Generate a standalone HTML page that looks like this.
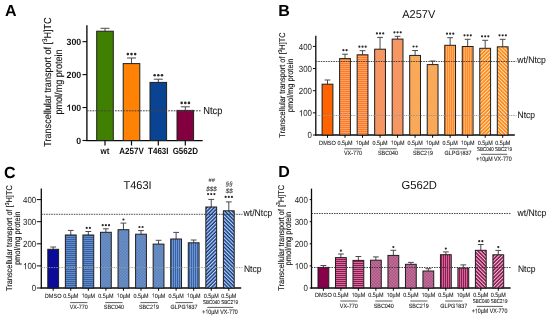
<!DOCTYPE html><html><head><meta charset="utf-8"><style>html,body{margin:0;padding:0;background:#fff;}svg{display:block;will-change:transform;text-rendering:geometricPrecision;}</style></head><body>
<svg width="550" height="318" viewBox="0 0 550 318" font-family='"Liberation Sans", sans-serif'>
<rect width="550" height="318" fill="#fff"/>
<defs>
<pattern id="bH" patternUnits="userSpaceOnUse" width="4" height="2"><rect width="4" height="2" fill="#ff7a28"/><rect y="0" width="4" height="0.8" fill="#ffac74"/></pattern>
<pattern id="bX" patternUnits="userSpaceOnUse" width="1.5" height="1.5"><rect width="1.5" height="1.5" fill="#f38a4e"/><rect width="0.75" height="0.75" fill="#f9a377"/><rect x="0.75" y="0.75" width="0.75" height="0.75" fill="#f9a377"/></pattern>
<pattern id="bX2" patternUnits="userSpaceOnUse" width="1.5" height="1.5"><rect width="1.5" height="1.5" fill="#f89e45"/><rect width="0.75" height="0.75" fill="#fbb46c"/><rect x="0.75" y="0.75" width="0.75" height="0.75" fill="#fbb46c"/></pattern>
<pattern id="bV" patternUnits="userSpaceOnUse" width="2" height="4"><rect width="2" height="4" fill="#ff8a2a"/><rect x="0" width="0.8" height="4" fill="#ffb772"/></pattern>
<pattern id="bD1" patternUnits="userSpaceOnUse" width="2.6" height="2.6" patternTransform="rotate(45)"><rect width="2.6" height="2.6" fill="#ff7f00"/><rect x="0" width="1.1" height="2.6" fill="#ffe2c2"/></pattern>
<pattern id="bD2" patternUnits="userSpaceOnUse" width="2.6" height="2.6" patternTransform="rotate(-45)"><rect width="2.6" height="2.6" fill="#ff7f00"/><rect x="0" width="1.1" height="2.6" fill="#ffe2c2"/></pattern>
<pattern id="cH" patternUnits="userSpaceOnUse" width="4" height="2"><rect width="4" height="2" fill="#3462a8"/><rect y="0" width="4" height="0.8" fill="#7395cb"/></pattern>
<pattern id="cX" patternUnits="userSpaceOnUse" width="1.5" height="1.5"><rect width="1.5" height="1.5" fill="#4c76b5"/><rect width="0.75" height="0.75" fill="#7d9ccd"/><rect x="0.75" y="0.75" width="0.75" height="0.75" fill="#7d9ccd"/></pattern>
<pattern id="cX2" patternUnits="userSpaceOnUse" width="1.5" height="1.5"><rect width="1.5" height="1.5" fill="#4c76b5"/><rect width="0.75" height="0.75" fill="#7d9ccd"/><rect x="0.75" y="0.75" width="0.75" height="0.75" fill="#7d9ccd"/></pattern>
<pattern id="cV" patternUnits="userSpaceOnUse" width="2" height="4"><rect width="2" height="4" fill="#3563ab"/><rect x="0" width="0.8" height="4" fill="#7fa0d3"/></pattern>
<pattern id="cD1" patternUnits="userSpaceOnUse" width="2.6" height="2.6" patternTransform="rotate(45)"><rect width="2.6" height="2.6" fill="#0a3786"/><rect x="0" width="1.2" height="2.6" fill="#c4d6f0"/></pattern>
<pattern id="cD2" patternUnits="userSpaceOnUse" width="2.6" height="2.6" patternTransform="rotate(-45)"><rect width="2.6" height="2.6" fill="#0a3786"/><rect x="0" width="1.2" height="2.6" fill="#c4d6f0"/></pattern>
<pattern id="dH" patternUnits="userSpaceOnUse" width="4" height="2"><rect width="4" height="2" fill="#9c1452"/><rect y="0" width="4" height="0.8" fill="#d28aae"/></pattern>
<pattern id="dX" patternUnits="userSpaceOnUse" width="1.5" height="1.5"><rect width="1.5" height="1.5" fill="#a43d74"/><rect width="0.75" height="0.75" fill="#c987aa"/><rect x="0.75" y="0.75" width="0.75" height="0.75" fill="#c987aa"/></pattern>
<pattern id="dX2" patternUnits="userSpaceOnUse" width="1.5" height="1.5"><rect width="1.5" height="1.5" fill="#a43d74"/><rect width="0.75" height="0.75" fill="#c987aa"/><rect x="0.75" y="0.75" width="0.75" height="0.75" fill="#c987aa"/></pattern>
<pattern id="dV" patternUnits="userSpaceOnUse" width="2" height="4"><rect width="2" height="4" fill="#9c1654"/><rect x="0" width="0.8" height="4" fill="#d083aa"/></pattern>
<pattern id="dD1" patternUnits="userSpaceOnUse" width="2.6" height="2.6" patternTransform="rotate(-45)"><rect width="2.6" height="2.6" fill="#8a0a48"/><rect x="0" width="1.1" height="2.6" fill="#f0c8da"/></pattern>
<pattern id="dD2" patternUnits="userSpaceOnUse" width="2.6" height="2.6" patternTransform="rotate(45)"><rect width="2.6" height="2.6" fill="#8a0a48"/><rect x="0" width="1.1" height="2.6" fill="#f0c8da"/></pattern>
</defs>
<text x="4.9" y="16.1" font-size="16" font-weight="bold" text-anchor="start" fill="#000" >A</text>
<text transform="translate(51.2,82) rotate(-90) scale(1,1.12)" x="0" y="0" font-size="9.06" text-anchor="middle" fill="#111" stroke="#111" stroke-width="0.1">Transcellular transport of [<tspan font-size="6.16" dy="-3.81">3</tspan><tspan dy="3.81">H]TC</tspan></text>
<text transform="translate(61.7,82) rotate(-90) scale(1,1.12)" x="0" y="0" font-size="9.1" text-anchor="middle" fill="#111" stroke="#111" stroke-width="0.1">pmol/mg protein</text>
<line x1="86.9" y1="25.3" x2="86.9" y2="141.1" stroke="#0a0a0a" stroke-width="1.35"/>
<line x1="86.3" y1="140.7" x2="202.7" y2="140.7" stroke="#0a0a0a" stroke-width="1.3"/>
<line x1="82.5" y1="140.5" x2="86.9" y2="140.5" stroke="#0a0a0a" stroke-width="1.1"/>
<text transform="translate(81.2,143.7) scale(1.0,1.04)" x="0" y="0" font-size="8.8" font-weight="bold" text-anchor="end" fill="#111" >0</text>
<line x1="82.5" y1="107.55" x2="86.9" y2="107.55" stroke="#0a0a0a" stroke-width="1.1"/>
<text transform="translate(81.2,110.75) scale(1.0,1.04)" x="0" y="0" font-size="8.8" font-weight="bold" text-anchor="end" fill="#111" >00</text>
<path transform="translate(66.52,110.75) scale(0.00430,-0.00447)" d="M816 0L597 0L597 1055C477 942 336 862 175 811L175 1063C260 1091 352 1144 452 1222C551 1299 619 1360 656 1409L816 1409Z" fill="#111"/>
<line x1="82.5" y1="74.6" x2="86.9" y2="74.6" stroke="#0a0a0a" stroke-width="1.1"/>
<text transform="translate(81.2,77.8) scale(1.0,1.04)" x="0" y="0" font-size="8.8" font-weight="bold" text-anchor="end" fill="#111" >200</text>
<line x1="82.5" y1="41.65" x2="86.9" y2="41.65" stroke="#0a0a0a" stroke-width="1.1"/>
<text transform="translate(81.2,44.85) scale(1.0,1.04)" x="0" y="0" font-size="8.8" font-weight="bold" text-anchor="end" fill="#111" >300</text>
<line x1="105" y1="28.3" x2="105" y2="31.2" stroke="#4a4a4a" stroke-width="1"/>
<line x1="100.5" y1="28.3" x2="109.5" y2="28.3" stroke="#4a4a4a" stroke-width="1"/>
<rect x="96.7" y="31.2" width="16.6" height="109.3" fill="#408000" stroke="#1e1e1e" stroke-width="1"/>
<line x1="105" y1="140.5" x2="105" y2="145.5" stroke="#0a0a0a" stroke-width="1.2"/>
<text transform="translate(105,153.8) scale(1.0,1.12)" x="0" y="0" font-size="8" font-weight="bold" text-anchor="middle" fill="#111" >wt</text>
<line x1="131.5" y1="58" x2="131.5" y2="63.6" stroke="#4a4a4a" stroke-width="1"/>
<line x1="127" y1="58" x2="136" y2="58" stroke="#4a4a4a" stroke-width="1"/>
<rect x="123.2" y="63.6" width="16.6" height="76.9" fill="#ff8205" stroke="#1e1e1e" stroke-width="1"/>
<circle cx="127.85" cy="54.1" r="1.3" fill="#2a2a2a"/>
<circle cx="131.5" cy="54.1" r="1.3" fill="#2a2a2a"/>
<circle cx="135.15" cy="54.1" r="1.3" fill="#2a2a2a"/>
<line x1="131.5" y1="140.5" x2="131.5" y2="145.5" stroke="#0a0a0a" stroke-width="1.2"/>
<text transform="translate(131.5,153.8) scale(1.0,1.12)" x="0" y="0" font-size="8" font-weight="bold" text-anchor="middle" fill="#111" >A257V</text>
<line x1="158.3" y1="79.2" x2="158.3" y2="82.4" stroke="#4a4a4a" stroke-width="1"/>
<line x1="153.8" y1="79.2" x2="162.8" y2="79.2" stroke="#4a4a4a" stroke-width="1"/>
<rect x="150" y="82.4" width="16.6" height="58.1" fill="#0a4391" stroke="#1e1e1e" stroke-width="1"/>
<circle cx="154.65" cy="75.3" r="1.3" fill="#2a2a2a"/>
<circle cx="158.3" cy="75.3" r="1.3" fill="#2a2a2a"/>
<circle cx="161.95" cy="75.3" r="1.3" fill="#2a2a2a"/>
<line x1="158.3" y1="140.5" x2="158.3" y2="145.5" stroke="#0a0a0a" stroke-width="1.2"/>
<text transform="translate(158.3,153.8) scale(1.0,1.12)" x="0" y="0" font-size="8" font-weight="bold" text-anchor="middle" fill="#111" >T463I</text>
<line x1="185.3" y1="106.8" x2="185.3" y2="110.4" stroke="#4a4a4a" stroke-width="1"/>
<line x1="180.8" y1="106.8" x2="189.8" y2="106.8" stroke="#4a4a4a" stroke-width="1"/>
<rect x="177" y="110.4" width="16.6" height="30.1" fill="#82003f" stroke="#1e1e1e" stroke-width="1"/>
<circle cx="181.65" cy="102.9" r="1.3" fill="#2a2a2a"/>
<circle cx="185.3" cy="102.9" r="1.3" fill="#2a2a2a"/>
<circle cx="188.95" cy="102.9" r="1.3" fill="#2a2a2a"/>
<line x1="185.3" y1="140.5" x2="185.3" y2="145.5" stroke="#0a0a0a" stroke-width="1.2"/>
<text transform="translate(185.3,153.8) scale(1.0,1.12)" x="0" y="0" font-size="8" font-weight="bold" text-anchor="middle" fill="#111" >G562D</text>
<line x1="86.9" y1="110.8" x2="200.6" y2="110.8" stroke="#444" stroke-width="1" stroke-dasharray="1.8,1.0"/>
<text transform="translate(203.3,113.6) scale(1.0,1.1)" x="0" y="0" font-size="9.3" font-weight="normal" text-anchor="start" fill="#111" stroke="#222" stroke-width="0.08">Ntcp</text>
<text x="278.3" y="16" font-size="16" font-weight="bold" text-anchor="start" fill="#000" >B</text>
<text transform="translate(418.8,18.4) scale(1.0,1.04)" x="0" y="0" font-size="11" font-weight="normal" text-anchor="middle" fill="#111" >A257V</text>
<text transform="translate(285.2,85.05) rotate(-90) scale(1,1.12)" x="0" y="0" font-size="7.37" text-anchor="middle" fill="#111" stroke="#111" stroke-width="0.1">Transcellular transport of [<tspan font-size="5.01" dy="-3.10">3</tspan><tspan dy="3.10">H]TC</tspan></text>
<text transform="translate(293,85.45) rotate(-90) scale(1,1.12)" x="0" y="0" font-size="7.49" text-anchor="middle" fill="#111" stroke="#111" stroke-width="0.1">pmol/mg protein</text>
<line x1="315.8" y1="35.7" x2="315.8" y2="135.6" stroke="#0a0a0a" stroke-width="1.3"/>
<line x1="315.2" y1="135" x2="514.8" y2="135" stroke="#0a0a0a" stroke-width="1.3"/>
<line x1="312.9" y1="135" x2="315.8" y2="135" stroke="#0a0a0a" stroke-width="1"/>
<text transform="translate(312,138.3) scale(1.0,1.12)" x="0" y="0" font-size="7.9" font-weight="normal" text-anchor="end" fill="#1a1a1a" >0</text>
<line x1="312.9" y1="112.85" x2="315.8" y2="112.85" stroke="#0a0a0a" stroke-width="1"/>
<text transform="translate(312,116.15) scale(1.0,1.12)" x="0" y="0" font-size="7.9" font-weight="normal" text-anchor="end" fill="#1a1a1a" >00</text>
<path transform="translate(298.82,116.15) scale(0.00386,-0.00432)" d="M583 0L583 1147C540 1106 483 1064 413 1023C343 982 280 951 224 930L224 1104C325 1151 413 1209 488 1276C563 1343 616 1376 647 1409L763 1409L763 0Z" fill="#1a1a1a"/>
<line x1="312.9" y1="90.7" x2="315.8" y2="90.7" stroke="#0a0a0a" stroke-width="1"/>
<text transform="translate(312,94) scale(1.0,1.12)" x="0" y="0" font-size="7.9" font-weight="normal" text-anchor="end" fill="#1a1a1a" >200</text>
<line x1="312.9" y1="68.55" x2="315.8" y2="68.55" stroke="#0a0a0a" stroke-width="1"/>
<text transform="translate(312,71.85) scale(1.0,1.12)" x="0" y="0" font-size="7.9" font-weight="normal" text-anchor="end" fill="#1a1a1a" >300</text>
<line x1="312.9" y1="46.4" x2="315.8" y2="46.4" stroke="#0a0a0a" stroke-width="1"/>
<text transform="translate(312,49.7) scale(1.0,1.12)" x="0" y="0" font-size="7.9" font-weight="normal" text-anchor="end" fill="#1a1a1a" >400</text>
<line x1="327.5" y1="80" x2="327.5" y2="84.2" stroke="#4a4a4a" stroke-width="1"/>
<line x1="324.6" y1="80" x2="330.4" y2="80" stroke="#4a4a4a" stroke-width="1"/>
<rect x="322.1" y="84.2" width="10.8" height="50.8" fill="#ff6300" stroke="#1e1e1e" stroke-width="1"/>
<line x1="327.5" y1="135" x2="327.5" y2="137.8" stroke="#0a0a0a" stroke-width="1"/>
<line x1="345.02" y1="54.2" x2="345.02" y2="58.6" stroke="#4a4a4a" stroke-width="1"/>
<line x1="342.12" y1="54.2" x2="347.92" y2="54.2" stroke="#4a4a4a" stroke-width="1"/>
<rect x="339.62" y="58.6" width="10.8" height="76.4" fill="url(#bH)" stroke="#1e1e1e" stroke-width="1"/>
<circle cx="343.44" cy="50.2" r="1.1" fill="#2a2a2a"/>
<circle cx="346.59" cy="50.2" r="1.1" fill="#2a2a2a"/>
<line x1="345.02" y1="135" x2="345.02" y2="137.8" stroke="#0a0a0a" stroke-width="1"/>
<line x1="362.54" y1="50.7" x2="362.54" y2="54.8" stroke="#4a4a4a" stroke-width="1"/>
<line x1="359.64" y1="50.7" x2="365.44" y2="50.7" stroke="#4a4a4a" stroke-width="1"/>
<rect x="357.14" y="54.8" width="10.8" height="80.2" fill="url(#bH)" stroke="#1e1e1e" stroke-width="1"/>
<circle cx="359.39" cy="46.7" r="1.1" fill="#2a2a2a"/>
<circle cx="362.54" cy="46.7" r="1.1" fill="#2a2a2a"/>
<circle cx="365.69" cy="46.7" r="1.1" fill="#2a2a2a"/>
<line x1="362.54" y1="135" x2="362.54" y2="137.8" stroke="#0a0a0a" stroke-width="1"/>
<line x1="380.06" y1="37.4" x2="380.06" y2="49.2" stroke="#4a4a4a" stroke-width="1"/>
<line x1="377.16" y1="37.4" x2="382.96" y2="37.4" stroke="#4a4a4a" stroke-width="1"/>
<rect x="374.66" y="49.2" width="10.8" height="85.8" fill="url(#bX)" stroke="#1e1e1e" stroke-width="1"/>
<circle cx="376.91" cy="33.4" r="1.1" fill="#2a2a2a"/>
<circle cx="380.06" cy="33.4" r="1.1" fill="#2a2a2a"/>
<circle cx="383.21" cy="33.4" r="1.1" fill="#2a2a2a"/>
<line x1="380.06" y1="135" x2="380.06" y2="137.8" stroke="#0a0a0a" stroke-width="1"/>
<line x1="397.58" y1="36.3" x2="397.58" y2="39.1" stroke="#4a4a4a" stroke-width="1"/>
<line x1="394.68" y1="36.3" x2="400.48" y2="36.3" stroke="#4a4a4a" stroke-width="1"/>
<rect x="392.18" y="39.1" width="10.8" height="95.9" fill="url(#bX)" stroke="#1e1e1e" stroke-width="1"/>
<circle cx="394.43" cy="32.3" r="1.1" fill="#2a2a2a"/>
<circle cx="397.58" cy="32.3" r="1.1" fill="#2a2a2a"/>
<circle cx="400.73" cy="32.3" r="1.1" fill="#2a2a2a"/>
<line x1="397.58" y1="135" x2="397.58" y2="137.8" stroke="#0a0a0a" stroke-width="1"/>
<line x1="415.1" y1="50.5" x2="415.1" y2="55.4" stroke="#4a4a4a" stroke-width="1"/>
<line x1="412.2" y1="50.5" x2="418" y2="50.5" stroke="#4a4a4a" stroke-width="1"/>
<rect x="409.7" y="55.4" width="10.8" height="79.6" fill="url(#bX2)" stroke="#1e1e1e" stroke-width="1"/>
<circle cx="413.53" cy="46.5" r="1.1" fill="#2a2a2a"/>
<circle cx="416.68" cy="46.5" r="1.1" fill="#2a2a2a"/>
<line x1="415.1" y1="135" x2="415.1" y2="137.8" stroke="#0a0a0a" stroke-width="1"/>
<line x1="432.62" y1="61" x2="432.62" y2="64.6" stroke="#4a4a4a" stroke-width="1"/>
<line x1="429.72" y1="61" x2="435.52" y2="61" stroke="#4a4a4a" stroke-width="1"/>
<rect x="427.22" y="64.6" width="10.8" height="70.4" fill="url(#bX2)" stroke="#1e1e1e" stroke-width="1"/>
<line x1="432.62" y1="135" x2="432.62" y2="137.8" stroke="#0a0a0a" stroke-width="1"/>
<line x1="450.14" y1="37.7" x2="450.14" y2="45.3" stroke="#4a4a4a" stroke-width="1"/>
<line x1="447.24" y1="37.7" x2="453.04" y2="37.7" stroke="#4a4a4a" stroke-width="1"/>
<rect x="444.74" y="45.3" width="10.8" height="89.7" fill="url(#bV)" stroke="#1e1e1e" stroke-width="1"/>
<circle cx="446.99" cy="33.7" r="1.1" fill="#2a2a2a"/>
<circle cx="450.14" cy="33.7" r="1.1" fill="#2a2a2a"/>
<circle cx="453.29" cy="33.7" r="1.1" fill="#2a2a2a"/>
<line x1="450.14" y1="135" x2="450.14" y2="137.8" stroke="#0a0a0a" stroke-width="1"/>
<line x1="467.66" y1="39.3" x2="467.66" y2="46.5" stroke="#4a4a4a" stroke-width="1"/>
<line x1="464.76" y1="39.3" x2="470.56" y2="39.3" stroke="#4a4a4a" stroke-width="1"/>
<rect x="462.26" y="46.5" width="10.8" height="88.5" fill="url(#bV)" stroke="#1e1e1e" stroke-width="1"/>
<circle cx="464.51" cy="35.3" r="1.1" fill="#2a2a2a"/>
<circle cx="467.66" cy="35.3" r="1.1" fill="#2a2a2a"/>
<circle cx="470.81" cy="35.3" r="1.1" fill="#2a2a2a"/>
<line x1="467.66" y1="135" x2="467.66" y2="137.8" stroke="#0a0a0a" stroke-width="1"/>
<line x1="485.18" y1="40.3" x2="485.18" y2="48.3" stroke="#4a4a4a" stroke-width="1"/>
<line x1="482.28" y1="40.3" x2="488.08" y2="40.3" stroke="#4a4a4a" stroke-width="1"/>
<rect x="479.78" y="48.3" width="10.8" height="86.7" fill="url(#bD1)" stroke="#1e1e1e" stroke-width="1"/>
<circle cx="482.03" cy="36.3" r="1.1" fill="#2a2a2a"/>
<circle cx="485.18" cy="36.3" r="1.1" fill="#2a2a2a"/>
<circle cx="488.33" cy="36.3" r="1.1" fill="#2a2a2a"/>
<line x1="485.18" y1="135" x2="485.18" y2="137.8" stroke="#0a0a0a" stroke-width="1"/>
<line x1="502.7" y1="39.3" x2="502.7" y2="46.8" stroke="#4a4a4a" stroke-width="1"/>
<line x1="499.8" y1="39.3" x2="505.6" y2="39.3" stroke="#4a4a4a" stroke-width="1"/>
<rect x="497.3" y="46.8" width="10.8" height="88.2" fill="url(#bD2)" stroke="#1e1e1e" stroke-width="1"/>
<circle cx="499.55" cy="35.3" r="1.1" fill="#2a2a2a"/>
<circle cx="502.7" cy="35.3" r="1.1" fill="#2a2a2a"/>
<circle cx="505.85" cy="35.3" r="1.1" fill="#2a2a2a"/>
<line x1="502.7" y1="135" x2="502.7" y2="137.8" stroke="#0a0a0a" stroke-width="1"/>
<line x1="315.8" y1="61.5" x2="516.5" y2="61.5" stroke="#333" stroke-width="0.9" stroke-dasharray="1.5,1.0"/>
<line x1="315.8" y1="115.5" x2="516.5" y2="115.5" stroke="#999" stroke-width="0.9" stroke-dasharray="1.5,1.0"/>
<text transform="translate(517.2,62.7) scale(1.0,1.1)" x="0" y="0" font-size="8.6" font-weight="normal" text-anchor="start" fill="#1a1a1a" stroke="#222" stroke-width="0.08">wt/Ntcp</text>
<text transform="translate(517.5,118.1) scale(1.0,1.1)" x="0" y="0" font-size="8.5" font-weight="normal" text-anchor="start" fill="#1a1a1a" stroke="#222" stroke-width="0.08">Ntcp</text>
<text transform="translate(327.5,144.6) scale(1.0,1.1)" x="0" y="0" font-size="5.6" font-weight="normal" text-anchor="middle" fill="#1a1a1a" stroke="#222" stroke-width="0.08">DMSO</text>
<text transform="translate(345.02,144.6) scale(1.0,1.12)" x="0" y="0" font-size="5.4" font-weight="normal" text-anchor="middle" fill="#1a1a1a" stroke="#222" stroke-width="0.08">0.5µM</text>
<path transform="translate(355.73,144.6) scale(0.00264,-0.00295)" d="M583 0L583 1147C540 1106 483 1064 413 1023C343 982 280 951 224 930L224 1104C325 1151 413 1209 488 1276C563 1343 616 1376 647 1409L763 1409L763 0Z" fill="#1a1a1a"/>
<text transform="translate(358.74,144.6) scale(1.0,1.12)" x="0" y="0" font-size="5.4" font-weight="normal" text-anchor="start" fill="#1a1a1a" stroke="#222" stroke-width="0.08">0µM</text>
<text transform="translate(380.06,144.6) scale(1.0,1.12)" x="0" y="0" font-size="5.4" font-weight="normal" text-anchor="middle" fill="#1a1a1a" stroke="#222" stroke-width="0.08">0.5µM</text>
<path transform="translate(390.77,144.6) scale(0.00264,-0.00295)" d="M583 0L583 1147C540 1106 483 1064 413 1023C343 982 280 951 224 930L224 1104C325 1151 413 1209 488 1276C563 1343 616 1376 647 1409L763 1409L763 0Z" fill="#1a1a1a"/>
<text transform="translate(393.78,144.6) scale(1.0,1.12)" x="0" y="0" font-size="5.4" font-weight="normal" text-anchor="start" fill="#1a1a1a" stroke="#222" stroke-width="0.08">0µM</text>
<text transform="translate(415.1,144.6) scale(1.0,1.12)" x="0" y="0" font-size="5.4" font-weight="normal" text-anchor="middle" fill="#1a1a1a" stroke="#222" stroke-width="0.08">0.5µM</text>
<path transform="translate(425.81,144.6) scale(0.00264,-0.00295)" d="M583 0L583 1147C540 1106 483 1064 413 1023C343 982 280 951 224 930L224 1104C325 1151 413 1209 488 1276C563 1343 616 1376 647 1409L763 1409L763 0Z" fill="#1a1a1a"/>
<text transform="translate(428.82,144.6) scale(1.0,1.12)" x="0" y="0" font-size="5.4" font-weight="normal" text-anchor="start" fill="#1a1a1a" stroke="#222" stroke-width="0.08">0µM</text>
<text transform="translate(450.14,144.6) scale(1.0,1.12)" x="0" y="0" font-size="5.4" font-weight="normal" text-anchor="middle" fill="#1a1a1a" stroke="#222" stroke-width="0.08">0.5µM</text>
<path transform="translate(460.85,144.6) scale(0.00264,-0.00295)" d="M583 0L583 1147C540 1106 483 1064 413 1023C343 982 280 951 224 930L224 1104C325 1151 413 1209 488 1276C563 1343 616 1376 647 1409L763 1409L763 0Z" fill="#1a1a1a"/>
<text transform="translate(463.86,144.6) scale(1.0,1.12)" x="0" y="0" font-size="5.4" font-weight="normal" text-anchor="start" fill="#1a1a1a" stroke="#222" stroke-width="0.08">0µM</text>
<text transform="translate(485.18,144.6) scale(1.0,1.12)" x="0" y="0" font-size="5.4" font-weight="normal" text-anchor="middle" fill="#1a1a1a" stroke="#222" stroke-width="0.08">0.5µM</text>
<text transform="translate(502.7,144.6) scale(1.0,1.12)" x="0" y="0" font-size="5.4" font-weight="normal" text-anchor="middle" fill="#1a1a1a" stroke="#222" stroke-width="0.08">0.5µM</text>
<line x1="344.42" y1="148.8" x2="361.64" y2="148.8" stroke="#333" stroke-width="0.8"/>
<text transform="translate(352.98,155.4) scale(1.0,1.15)" x="0" y="0" font-size="5.4" font-weight="normal" text-anchor="middle" fill="#1a1a1a" stroke="#222" stroke-width="0.08">VX-770</text>
<line x1="379.46" y1="148.8" x2="396.68" y2="148.8" stroke="#333" stroke-width="0.8"/>
<text transform="translate(388.02,155.4) scale(1.0,1.15)" x="0" y="0" font-size="5.4" font-weight="normal" text-anchor="middle" fill="#1a1a1a" stroke="#222" stroke-width="0.08">SBC040</text>
<line x1="414.5" y1="148.8" x2="431.72" y2="148.8" stroke="#333" stroke-width="0.8"/>
<text transform="translate(413,155.4) scale(1.0,1.15)" x="0" y="0" font-size="5.4" font-weight="normal" text-anchor="start" fill="#1a1a1a" stroke="#222" stroke-width="0.08">SBC2</text>
<path transform="translate(427.11,155.4) scale(0.00264,-0.00303)" d="M583 0L583 1147C540 1106 483 1064 413 1023C343 982 280 951 224 930L224 1104C325 1151 413 1209 488 1276C563 1343 616 1376 647 1409L763 1409L763 0Z" fill="#1a1a1a"/>
<text transform="translate(430.11,155.4) scale(1.0,1.15)" x="0" y="0" font-size="5.4" font-weight="normal" text-anchor="start" fill="#1a1a1a" stroke="#222" stroke-width="0.08">9</text>
<line x1="449.54" y1="148.8" x2="466.76" y2="148.8" stroke="#333" stroke-width="0.8"/>
<text transform="translate(444.59,155.4) scale(1.0,1.15)" x="0" y="0" font-size="5.4" font-weight="normal" text-anchor="start" fill="#1a1a1a" stroke="#222" stroke-width="0.08">GLPG</text>
<path transform="translate(459.6,155.4) scale(0.00264,-0.00303)" d="M583 0L583 1147C540 1106 483 1064 413 1023C343 982 280 951 224 930L224 1104C325 1151 413 1209 488 1276C563 1343 616 1376 647 1409L763 1409L763 0Z" fill="#1a1a1a"/>
<text transform="translate(462.6,155.4) scale(1.0,1.15)" x="0" y="0" font-size="5.4" font-weight="normal" text-anchor="start" fill="#1a1a1a" stroke="#222" stroke-width="0.08">837</text>
<text transform="translate(485.38,150.5) scale(1.0,1.25)" x="0" y="0" font-size="4.5" font-weight="normal" text-anchor="middle" fill="#1a1a1a" stroke="#222" stroke-width="0.08">SBC040</text>
<text transform="translate(495.12,150.5) scale(1.0,1.25)" x="0" y="0" font-size="4.5" font-weight="normal" text-anchor="start" fill="#1a1a1a" stroke="#222" stroke-width="0.08">SBC2</text>
<path transform="translate(506.88,150.5) scale(0.00220,-0.00275)" d="M583 0L583 1147C540 1106 483 1064 413 1023C343 982 280 951 224 930L224 1104C325 1151 413 1209 488 1276C563 1343 616 1376 647 1409L763 1409L763 0Z" fill="#1a1a1a"/>
<text transform="translate(509.38,150.5) scale(1.0,1.25)" x="0" y="0" font-size="4.5" font-weight="normal" text-anchor="start" fill="#1a1a1a" stroke="#222" stroke-width="0.08">9</text>
<line x1="481.18" y1="154.3" x2="507.2" y2="154.3" stroke="#333" stroke-width="0.8"/>
<text transform="translate(476.14,161.2) scale(1.0,1.2)" x="0" y="0" font-size="5.3" font-weight="normal" text-anchor="start" fill="#1a1a1a" stroke="#222" stroke-width="0.08">+</text>
<path transform="translate(479.23,161.2) scale(0.00259,-0.00311)" d="M583 0L583 1147C540 1106 483 1064 413 1023C343 982 280 951 224 930L224 1104C325 1151 413 1209 488 1276C563 1343 616 1376 647 1409L763 1409L763 0Z" fill="#1a1a1a"/>
<text transform="translate(482.18,161.2) scale(1.0,1.2)" x="0" y="0" font-size="5.3" font-weight="normal" text-anchor="start" fill="#1a1a1a" stroke="#222" stroke-width="0.08">0µM VX-770</text>
<text x="4" y="177.6" font-size="16" font-weight="bold" text-anchor="start" fill="#000" >C</text>
<text transform="translate(137.5,189.1) scale(1.0,1.04)" x="0" y="0" font-size="11" font-weight="normal" text-anchor="middle" fill="#111" >T463I</text>
<text transform="translate(12.4,238.15) rotate(-90) scale(1,1.12)" x="0" y="0" font-size="7.41" text-anchor="middle" fill="#111" stroke="#111" stroke-width="0.1">Transcellular transport of [<tspan font-size="5.04" dy="-3.11">3</tspan><tspan dy="3.11">H]TC</tspan></text>
<text transform="translate(20.1,238.35) rotate(-90) scale(1,1.12)" x="0" y="0" font-size="7.46" text-anchor="middle" fill="#111" stroke="#111" stroke-width="0.1">pmol/mg protein</text>
<line x1="41.3" y1="188.6" x2="41.3" y2="288.6" stroke="#0a0a0a" stroke-width="1.3"/>
<line x1="40.7" y1="288" x2="241.2" y2="288" stroke="#0a0a0a" stroke-width="1.3"/>
<line x1="36.8" y1="288" x2="41.3" y2="288" stroke="#0a0a0a" stroke-width="1"/>
<text transform="translate(36.2,291.3) scale(1.0,1.12)" x="0" y="0" font-size="7.9" font-weight="normal" text-anchor="end" fill="#1a1a1a" >0</text>
<line x1="36.8" y1="265.9" x2="41.3" y2="265.9" stroke="#0a0a0a" stroke-width="1"/>
<text transform="translate(36.2,269.2) scale(1.0,1.12)" x="0" y="0" font-size="7.9" font-weight="normal" text-anchor="end" fill="#1a1a1a" >00</text>
<path transform="translate(23.02,269.2) scale(0.00386,-0.00432)" d="M583 0L583 1147C540 1106 483 1064 413 1023C343 982 280 951 224 930L224 1104C325 1151 413 1209 488 1276C563 1343 616 1376 647 1409L763 1409L763 0Z" fill="#1a1a1a"/>
<line x1="36.8" y1="243.8" x2="41.3" y2="243.8" stroke="#0a0a0a" stroke-width="1"/>
<text transform="translate(36.2,247.1) scale(1.0,1.12)" x="0" y="0" font-size="7.9" font-weight="normal" text-anchor="end" fill="#1a1a1a" >200</text>
<line x1="36.8" y1="221.7" x2="41.3" y2="221.7" stroke="#0a0a0a" stroke-width="1"/>
<text transform="translate(36.2,225) scale(1.0,1.12)" x="0" y="0" font-size="7.9" font-weight="normal" text-anchor="end" fill="#1a1a1a" >300</text>
<line x1="36.8" y1="199.6" x2="41.3" y2="199.6" stroke="#0a0a0a" stroke-width="1"/>
<text transform="translate(36.2,202.9) scale(1.0,1.12)" x="0" y="0" font-size="7.9" font-weight="normal" text-anchor="end" fill="#1a1a1a" >400</text>
<line x1="53.2" y1="247" x2="53.2" y2="249.3" stroke="#4a4a4a" stroke-width="1"/>
<line x1="50.3" y1="247" x2="56.1" y2="247" stroke="#4a4a4a" stroke-width="1"/>
<rect x="47.8" y="249.3" width="10.8" height="38.7" fill="#0b0b9a" stroke="#1e1e1e" stroke-width="1"/>
<line x1="53.2" y1="288" x2="53.2" y2="290.8" stroke="#0a0a0a" stroke-width="1"/>
<line x1="70.76" y1="230.4" x2="70.76" y2="235" stroke="#4a4a4a" stroke-width="1"/>
<line x1="67.86" y1="230.4" x2="73.66" y2="230.4" stroke="#4a4a4a" stroke-width="1"/>
<rect x="65.36" y="235" width="10.8" height="53" fill="url(#cH)" stroke="#1e1e1e" stroke-width="1"/>
<line x1="70.76" y1="288" x2="70.76" y2="290.8" stroke="#0a0a0a" stroke-width="1"/>
<line x1="88.32" y1="231.5" x2="88.32" y2="235" stroke="#4a4a4a" stroke-width="1"/>
<line x1="85.42" y1="231.5" x2="91.22" y2="231.5" stroke="#4a4a4a" stroke-width="1"/>
<rect x="82.92" y="235" width="10.8" height="53" fill="url(#cH)" stroke="#1e1e1e" stroke-width="1"/>
<circle cx="86.74" cy="227.9" r="1.1" fill="#2a2a2a"/>
<circle cx="89.89" cy="227.9" r="1.1" fill="#2a2a2a"/>
<line x1="88.32" y1="288" x2="88.32" y2="290.8" stroke="#0a0a0a" stroke-width="1"/>
<line x1="105.88" y1="228.8" x2="105.88" y2="232.3" stroke="#4a4a4a" stroke-width="1"/>
<line x1="102.98" y1="228.8" x2="108.78" y2="228.8" stroke="#4a4a4a" stroke-width="1"/>
<rect x="100.48" y="232.3" width="10.8" height="55.7" fill="url(#cX)" stroke="#1e1e1e" stroke-width="1"/>
<circle cx="102.73" cy="225.2" r="1.1" fill="#2a2a2a"/>
<circle cx="105.88" cy="225.2" r="1.1" fill="#2a2a2a"/>
<circle cx="109.03" cy="225.2" r="1.1" fill="#2a2a2a"/>
<line x1="105.88" y1="288" x2="105.88" y2="290.8" stroke="#0a0a0a" stroke-width="1"/>
<line x1="123.44" y1="223.1" x2="123.44" y2="229.7" stroke="#4a4a4a" stroke-width="1"/>
<line x1="120.54" y1="223.1" x2="126.34" y2="223.1" stroke="#4a4a4a" stroke-width="1"/>
<rect x="118.04" y="229.7" width="10.8" height="58.3" fill="url(#cX)" stroke="#1e1e1e" stroke-width="1"/>
<circle cx="123.44" cy="219.5" r="1.1" fill="#2a2a2a"/>
<line x1="123.44" y1="288" x2="123.44" y2="290.8" stroke="#0a0a0a" stroke-width="1"/>
<line x1="141" y1="230.6" x2="141" y2="234.2" stroke="#4a4a4a" stroke-width="1"/>
<line x1="138.1" y1="230.6" x2="143.9" y2="230.6" stroke="#4a4a4a" stroke-width="1"/>
<rect x="135.6" y="234.2" width="10.8" height="53.8" fill="url(#cX2)" stroke="#1e1e1e" stroke-width="1"/>
<circle cx="139.43" cy="227" r="1.1" fill="#2a2a2a"/>
<circle cx="142.57" cy="227" r="1.1" fill="#2a2a2a"/>
<line x1="141" y1="288" x2="141" y2="290.8" stroke="#0a0a0a" stroke-width="1"/>
<line x1="158.56" y1="240.3" x2="158.56" y2="244.1" stroke="#4a4a4a" stroke-width="1"/>
<line x1="155.66" y1="240.3" x2="161.46" y2="240.3" stroke="#4a4a4a" stroke-width="1"/>
<rect x="153.16" y="244.1" width="10.8" height="43.9" fill="url(#cX2)" stroke="#1e1e1e" stroke-width="1"/>
<line x1="158.56" y1="288" x2="158.56" y2="290.8" stroke="#0a0a0a" stroke-width="1"/>
<line x1="176.12" y1="232.4" x2="176.12" y2="239" stroke="#4a4a4a" stroke-width="1"/>
<line x1="173.22" y1="232.4" x2="179.02" y2="232.4" stroke="#4a4a4a" stroke-width="1"/>
<rect x="170.72" y="239" width="10.8" height="49" fill="url(#cV)" stroke="#1e1e1e" stroke-width="1"/>
<line x1="176.12" y1="288" x2="176.12" y2="290.8" stroke="#0a0a0a" stroke-width="1"/>
<line x1="193.68" y1="240" x2="193.68" y2="242.8" stroke="#4a4a4a" stroke-width="1"/>
<line x1="190.78" y1="240" x2="196.58" y2="240" stroke="#4a4a4a" stroke-width="1"/>
<rect x="188.28" y="242.8" width="10.8" height="45.2" fill="url(#cV)" stroke="#1e1e1e" stroke-width="1"/>
<line x1="193.68" y1="288" x2="193.68" y2="290.8" stroke="#0a0a0a" stroke-width="1"/>
<line x1="211.24" y1="199.4" x2="211.24" y2="207" stroke="#4a4a4a" stroke-width="1"/>
<line x1="208.34" y1="199.4" x2="214.14" y2="199.4" stroke="#4a4a4a" stroke-width="1"/>
<rect x="205.84" y="207" width="10.8" height="81" fill="url(#cD1)" stroke="#1e1e1e" stroke-width="1"/>
<circle cx="208.09" cy="194.1" r="1.1" fill="#2a2a2a"/>
<circle cx="211.24" cy="194.1" r="1.1" fill="#2a2a2a"/>
<circle cx="214.39" cy="194.1" r="1.1" fill="#2a2a2a"/>
<line x1="211.24" y1="288" x2="211.24" y2="290.8" stroke="#0a0a0a" stroke-width="1"/>
<line x1="228.8" y1="201.9" x2="228.8" y2="210.8" stroke="#4a4a4a" stroke-width="1"/>
<line x1="225.9" y1="201.9" x2="231.7" y2="201.9" stroke="#4a4a4a" stroke-width="1"/>
<rect x="223.4" y="210.8" width="10.8" height="77.2" fill="url(#cD2)" stroke="#1e1e1e" stroke-width="1"/>
<circle cx="225.65" cy="196.9" r="1.1" fill="#2a2a2a"/>
<circle cx="228.8" cy="196.9" r="1.1" fill="#2a2a2a"/>
<circle cx="231.95" cy="196.9" r="1.1" fill="#2a2a2a"/>
<line x1="228.8" y1="288" x2="228.8" y2="290.8" stroke="#0a0a0a" stroke-width="1"/>
<line x1="41.3" y1="214.3" x2="242.5" y2="214.3" stroke="#333" stroke-width="0.9" stroke-dasharray="1.5,1.0"/>
<line x1="41.3" y1="267.6" x2="242.5" y2="267.6" stroke="#999" stroke-width="0.9" stroke-dasharray="1.5,1.0"/>
<text transform="translate(243.6,216.2) scale(1.0,1.1)" x="0" y="0" font-size="8.6" font-weight="normal" text-anchor="start" fill="#1a1a1a" stroke="#222" stroke-width="0.08">wt/Ntcp</text>
<text transform="translate(243.9,271.7) scale(1.0,1.1)" x="0" y="0" font-size="8.5" font-weight="normal" text-anchor="start" fill="#1a1a1a" stroke="#222" stroke-width="0.08">Ntcp</text>
<text transform="translate(53.2,297.5) scale(1.0,1.1)" x="0" y="0" font-size="5.6" font-weight="normal" text-anchor="middle" fill="#1a1a1a" stroke="#222" stroke-width="0.08">DMSO</text>
<text transform="translate(70.76,297.5) scale(1.0,1.12)" x="0" y="0" font-size="5.4" font-weight="normal" text-anchor="middle" fill="#1a1a1a" stroke="#222" stroke-width="0.08">0.5µM</text>
<path transform="translate(81.51,297.5) scale(0.00264,-0.00295)" d="M583 0L583 1147C540 1106 483 1064 413 1023C343 982 280 951 224 930L224 1104C325 1151 413 1209 488 1276C563 1343 616 1376 647 1409L763 1409L763 0Z" fill="#1a1a1a"/>
<text transform="translate(84.52,297.5) scale(1.0,1.12)" x="0" y="0" font-size="5.4" font-weight="normal" text-anchor="start" fill="#1a1a1a" stroke="#222" stroke-width="0.08">0µM</text>
<text transform="translate(105.88,297.5) scale(1.0,1.12)" x="0" y="0" font-size="5.4" font-weight="normal" text-anchor="middle" fill="#1a1a1a" stroke="#222" stroke-width="0.08">0.5µM</text>
<path transform="translate(116.63,297.5) scale(0.00264,-0.00295)" d="M583 0L583 1147C540 1106 483 1064 413 1023C343 982 280 951 224 930L224 1104C325 1151 413 1209 488 1276C563 1343 616 1376 647 1409L763 1409L763 0Z" fill="#1a1a1a"/>
<text transform="translate(119.64,297.5) scale(1.0,1.12)" x="0" y="0" font-size="5.4" font-weight="normal" text-anchor="start" fill="#1a1a1a" stroke="#222" stroke-width="0.08">0µM</text>
<text transform="translate(141,297.5) scale(1.0,1.12)" x="0" y="0" font-size="5.4" font-weight="normal" text-anchor="middle" fill="#1a1a1a" stroke="#222" stroke-width="0.08">0.5µM</text>
<path transform="translate(151.75,297.5) scale(0.00264,-0.00295)" d="M583 0L583 1147C540 1106 483 1064 413 1023C343 982 280 951 224 930L224 1104C325 1151 413 1209 488 1276C563 1343 616 1376 647 1409L763 1409L763 0Z" fill="#1a1a1a"/>
<text transform="translate(154.76,297.5) scale(1.0,1.12)" x="0" y="0" font-size="5.4" font-weight="normal" text-anchor="start" fill="#1a1a1a" stroke="#222" stroke-width="0.08">0µM</text>
<text transform="translate(176.12,297.5) scale(1.0,1.12)" x="0" y="0" font-size="5.4" font-weight="normal" text-anchor="middle" fill="#1a1a1a" stroke="#222" stroke-width="0.08">0.5µM</text>
<path transform="translate(186.87,297.5) scale(0.00264,-0.00295)" d="M583 0L583 1147C540 1106 483 1064 413 1023C343 982 280 951 224 930L224 1104C325 1151 413 1209 488 1276C563 1343 616 1376 647 1409L763 1409L763 0Z" fill="#1a1a1a"/>
<text transform="translate(189.88,297.5) scale(1.0,1.12)" x="0" y="0" font-size="5.4" font-weight="normal" text-anchor="start" fill="#1a1a1a" stroke="#222" stroke-width="0.08">0µM</text>
<text transform="translate(211.24,297.5) scale(1.0,1.12)" x="0" y="0" font-size="5.4" font-weight="normal" text-anchor="middle" fill="#1a1a1a" stroke="#222" stroke-width="0.08">0.5µM</text>
<text transform="translate(228.8,297.5) scale(1.0,1.12)" x="0" y="0" font-size="5.4" font-weight="normal" text-anchor="middle" fill="#1a1a1a" stroke="#222" stroke-width="0.08">0.5µM</text>
<line x1="70.16" y1="302.6" x2="87.42" y2="302.6" stroke="#333" stroke-width="0.8"/>
<text transform="translate(78.74,308.6) scale(1.0,1.15)" x="0" y="0" font-size="5.4" font-weight="normal" text-anchor="middle" fill="#1a1a1a" stroke="#222" stroke-width="0.08">VX-770</text>
<line x1="105.28" y1="302.6" x2="122.54" y2="302.6" stroke="#333" stroke-width="0.8"/>
<text transform="translate(113.86,308.6) scale(1.0,1.15)" x="0" y="0" font-size="5.4" font-weight="normal" text-anchor="middle" fill="#1a1a1a" stroke="#222" stroke-width="0.08">SBC040</text>
<line x1="140.4" y1="302.6" x2="157.66" y2="302.6" stroke="#333" stroke-width="0.8"/>
<text transform="translate(138.92,308.6) scale(1.0,1.15)" x="0" y="0" font-size="5.4" font-weight="normal" text-anchor="start" fill="#1a1a1a" stroke="#222" stroke-width="0.08">SBC2</text>
<path transform="translate(153.03,308.6) scale(0.00264,-0.00303)" d="M583 0L583 1147C540 1106 483 1064 413 1023C343 982 280 951 224 930L224 1104C325 1151 413 1209 488 1276C563 1343 616 1376 647 1409L763 1409L763 0Z" fill="#1a1a1a"/>
<text transform="translate(156.03,308.6) scale(1.0,1.15)" x="0" y="0" font-size="5.4" font-weight="normal" text-anchor="start" fill="#1a1a1a" stroke="#222" stroke-width="0.08">9</text>
<line x1="175.52" y1="302.6" x2="192.78" y2="302.6" stroke="#333" stroke-width="0.8"/>
<text transform="translate(170.59,308.6) scale(1.0,1.15)" x="0" y="0" font-size="5.4" font-weight="normal" text-anchor="start" fill="#1a1a1a" stroke="#222" stroke-width="0.08">GLPG</text>
<path transform="translate(185.6,308.6) scale(0.00264,-0.00303)" d="M583 0L583 1147C540 1106 483 1064 413 1023C343 982 280 951 224 930L224 1104C325 1151 413 1209 488 1276C563 1343 616 1376 647 1409L763 1409L763 0Z" fill="#1a1a1a"/>
<text transform="translate(188.6,308.6) scale(1.0,1.15)" x="0" y="0" font-size="5.4" font-weight="normal" text-anchor="start" fill="#1a1a1a" stroke="#222" stroke-width="0.08">837</text>
<text transform="translate(211.44,303.6) scale(1.0,1.25)" x="0" y="0" font-size="4.5" font-weight="normal" text-anchor="middle" fill="#1a1a1a" stroke="#222" stroke-width="0.08">SBC040</text>
<text transform="translate(221.22,303.6) scale(1.0,1.25)" x="0" y="0" font-size="4.5" font-weight="normal" text-anchor="start" fill="#1a1a1a" stroke="#222" stroke-width="0.08">SBC2</text>
<path transform="translate(232.98,303.6) scale(0.00220,-0.00275)" d="M583 0L583 1147C540 1106 483 1064 413 1023C343 982 280 951 224 930L224 1104C325 1151 413 1209 488 1276C563 1343 616 1376 647 1409L763 1409L763 0Z" fill="#1a1a1a"/>
<text transform="translate(235.48,303.6) scale(1.0,1.25)" x="0" y="0" font-size="4.5" font-weight="normal" text-anchor="start" fill="#1a1a1a" stroke="#222" stroke-width="0.08">9</text>
<line x1="207.24" y1="307.4" x2="233.3" y2="307.4" stroke="#333" stroke-width="0.8"/>
<text transform="translate(202.22,313.7) scale(1.0,1.2)" x="0" y="0" font-size="5.3" font-weight="normal" text-anchor="start" fill="#1a1a1a" stroke="#222" stroke-width="0.08">+</text>
<path transform="translate(205.31,313.7) scale(0.00259,-0.00311)" d="M583 0L583 1147C540 1106 483 1064 413 1023C343 982 280 951 224 930L224 1104C325 1151 413 1209 488 1276C563 1343 616 1376 647 1409L763 1409L763 0Z" fill="#1a1a1a"/>
<text transform="translate(208.26,313.7) scale(1.0,1.2)" x="0" y="0" font-size="5.3" font-weight="normal" text-anchor="start" fill="#1a1a1a" stroke="#222" stroke-width="0.08">0µM VX-770</text>
<text x="211.6" y="190.9" font-size="6.3" font-weight="normal" text-anchor="middle" fill="#333" font-style="italic" stroke="#222" stroke-width="0.08">$$$</text>
<text transform="translate(211.7,181.7) scale(1.0,0.95)" x="0" y="0" font-size="5.8" font-weight="bold" text-anchor="middle" fill="#333" >##</text>
<text x="229.2" y="193.2" font-size="6.3" font-weight="normal" text-anchor="middle" fill="#333" font-style="italic" stroke="#222" stroke-width="0.08">$$</text>
<text x="229.2" y="186.2" font-size="6.3" font-weight="normal" text-anchor="middle" fill="#333" font-style="italic" stroke="#222" stroke-width="0.08">§§</text>
<text x="278.3" y="177.4" font-size="16" font-weight="bold" text-anchor="start" fill="#000" >D</text>
<text transform="translate(419.2,188.6) scale(1.0,1.04)" x="0" y="0" font-size="11.2" font-weight="normal" text-anchor="middle" fill="#111" >G562D</text>
<text transform="translate(283.8,237.75) rotate(-90) scale(1,1.12)" x="0" y="0" font-size="7.41" text-anchor="middle" fill="#111" stroke="#111" stroke-width="0.1">Transcellular transport of [<tspan font-size="5.04" dy="-3.11">3</tspan><tspan dy="3.11">H]TC</tspan></text>
<text transform="translate(291.2,238.6) rotate(-90) scale(1,1.12)" x="0" y="0" font-size="7.47" text-anchor="middle" fill="#111" stroke="#111" stroke-width="0.1">pmol/mg protein</text>
<line x1="311.5" y1="188.6" x2="311.5" y2="288.6" stroke="#0a0a0a" stroke-width="1.3"/>
<line x1="310.9" y1="288" x2="510.6" y2="288" stroke="#0a0a0a" stroke-width="1.3"/>
<line x1="309.7" y1="288" x2="311.5" y2="288" stroke="#0a0a0a" stroke-width="1"/>
<text transform="translate(307.8,291.3) scale(1.0,1.12)" x="0" y="0" font-size="7.9" font-weight="normal" text-anchor="end" fill="#1a1a1a" >0</text>
<line x1="309.7" y1="265.9" x2="311.5" y2="265.9" stroke="#0a0a0a" stroke-width="1"/>
<text transform="translate(307.8,269.2) scale(1.0,1.12)" x="0" y="0" font-size="7.9" font-weight="normal" text-anchor="end" fill="#1a1a1a" >00</text>
<path transform="translate(294.62,269.2) scale(0.00386,-0.00432)" d="M583 0L583 1147C540 1106 483 1064 413 1023C343 982 280 951 224 930L224 1104C325 1151 413 1209 488 1276C563 1343 616 1376 647 1409L763 1409L763 0Z" fill="#1a1a1a"/>
<line x1="309.7" y1="243.8" x2="311.5" y2="243.8" stroke="#0a0a0a" stroke-width="1"/>
<text transform="translate(307.8,247.1) scale(1.0,1.12)" x="0" y="0" font-size="7.9" font-weight="normal" text-anchor="end" fill="#1a1a1a" >200</text>
<line x1="309.7" y1="221.7" x2="311.5" y2="221.7" stroke="#0a0a0a" stroke-width="1"/>
<text transform="translate(307.8,225) scale(1.0,1.12)" x="0" y="0" font-size="7.9" font-weight="normal" text-anchor="end" fill="#1a1a1a" >300</text>
<line x1="309.7" y1="199.6" x2="311.5" y2="199.6" stroke="#0a0a0a" stroke-width="1"/>
<text transform="translate(307.8,202.9) scale(1.0,1.12)" x="0" y="0" font-size="7.9" font-weight="normal" text-anchor="end" fill="#1a1a1a" >400</text>
<line x1="323.4" y1="265.5" x2="323.4" y2="267.4" stroke="#4a4a4a" stroke-width="1"/>
<line x1="320.5" y1="265.5" x2="326.3" y2="265.5" stroke="#4a4a4a" stroke-width="1"/>
<rect x="318" y="267.4" width="10.8" height="20.6" fill="#86004a" stroke="#1e1e1e" stroke-width="1"/>
<line x1="323.4" y1="288" x2="323.4" y2="290.8" stroke="#0a0a0a" stroke-width="1"/>
<line x1="340.89" y1="254" x2="340.89" y2="257.6" stroke="#4a4a4a" stroke-width="1"/>
<line x1="337.99" y1="254" x2="343.79" y2="254" stroke="#4a4a4a" stroke-width="1"/>
<rect x="335.49" y="257.6" width="10.8" height="30.4" fill="url(#dH)" stroke="#1e1e1e" stroke-width="1"/>
<circle cx="340.89" cy="250.7" r="1.1" fill="#2a2a2a"/>
<line x1="340.89" y1="288" x2="340.89" y2="290.8" stroke="#0a0a0a" stroke-width="1"/>
<line x1="358.38" y1="256.5" x2="358.38" y2="260.4" stroke="#4a4a4a" stroke-width="1"/>
<line x1="355.48" y1="256.5" x2="361.28" y2="256.5" stroke="#4a4a4a" stroke-width="1"/>
<rect x="352.98" y="260.4" width="10.8" height="27.6" fill="url(#dH)" stroke="#1e1e1e" stroke-width="1"/>
<line x1="358.38" y1="288" x2="358.38" y2="290.8" stroke="#0a0a0a" stroke-width="1"/>
<line x1="375.87" y1="256.9" x2="375.87" y2="260.2" stroke="#4a4a4a" stroke-width="1"/>
<line x1="372.97" y1="256.9" x2="378.77" y2="256.9" stroke="#4a4a4a" stroke-width="1"/>
<rect x="370.47" y="260.2" width="10.8" height="27.8" fill="url(#dX)" stroke="#1e1e1e" stroke-width="1"/>
<line x1="375.87" y1="288" x2="375.87" y2="290.8" stroke="#0a0a0a" stroke-width="1"/>
<line x1="393.36" y1="250.3" x2="393.36" y2="255.4" stroke="#4a4a4a" stroke-width="1"/>
<line x1="390.46" y1="250.3" x2="396.26" y2="250.3" stroke="#4a4a4a" stroke-width="1"/>
<rect x="387.96" y="255.4" width="10.8" height="32.6" fill="url(#dX)" stroke="#1e1e1e" stroke-width="1"/>
<circle cx="393.36" cy="247" r="1.1" fill="#2a2a2a"/>
<line x1="393.36" y1="288" x2="393.36" y2="290.8" stroke="#0a0a0a" stroke-width="1"/>
<line x1="410.85" y1="262.4" x2="410.85" y2="264.3" stroke="#4a4a4a" stroke-width="1"/>
<line x1="407.95" y1="262.4" x2="413.75" y2="262.4" stroke="#4a4a4a" stroke-width="1"/>
<rect x="405.45" y="264.3" width="10.8" height="23.7" fill="url(#dX2)" stroke="#1e1e1e" stroke-width="1"/>
<line x1="410.85" y1="288" x2="410.85" y2="290.8" stroke="#0a0a0a" stroke-width="1"/>
<line x1="428.34" y1="268.7" x2="428.34" y2="271" stroke="#4a4a4a" stroke-width="1"/>
<line x1="425.44" y1="268.7" x2="431.24" y2="268.7" stroke="#4a4a4a" stroke-width="1"/>
<rect x="422.94" y="271" width="10.8" height="17" fill="url(#dX2)" stroke="#1e1e1e" stroke-width="1"/>
<line x1="428.34" y1="288" x2="428.34" y2="290.8" stroke="#0a0a0a" stroke-width="1"/>
<line x1="445.83" y1="251.9" x2="445.83" y2="254.7" stroke="#4a4a4a" stroke-width="1"/>
<line x1="442.93" y1="251.9" x2="448.73" y2="251.9" stroke="#4a4a4a" stroke-width="1"/>
<rect x="440.43" y="254.7" width="10.8" height="33.3" fill="url(#dV)" stroke="#1e1e1e" stroke-width="1"/>
<circle cx="445.83" cy="248.6" r="1.1" fill="#2a2a2a"/>
<line x1="445.83" y1="288" x2="445.83" y2="290.8" stroke="#0a0a0a" stroke-width="1"/>
<line x1="463.32" y1="264.9" x2="463.32" y2="268.1" stroke="#4a4a4a" stroke-width="1"/>
<line x1="460.42" y1="264.9" x2="466.22" y2="264.9" stroke="#4a4a4a" stroke-width="1"/>
<rect x="457.92" y="268.1" width="10.8" height="19.9" fill="url(#dV)" stroke="#1e1e1e" stroke-width="1"/>
<line x1="463.32" y1="288" x2="463.32" y2="290.8" stroke="#0a0a0a" stroke-width="1"/>
<line x1="480.81" y1="244.5" x2="480.81" y2="250.3" stroke="#4a4a4a" stroke-width="1"/>
<line x1="477.91" y1="244.5" x2="483.71" y2="244.5" stroke="#4a4a4a" stroke-width="1"/>
<rect x="475.41" y="250.3" width="10.8" height="37.7" fill="url(#dD1)" stroke="#1e1e1e" stroke-width="1"/>
<circle cx="479.23" cy="241.2" r="1.1" fill="#2a2a2a"/>
<circle cx="482.38" cy="241.2" r="1.1" fill="#2a2a2a"/>
<line x1="480.81" y1="288" x2="480.81" y2="290.8" stroke="#0a0a0a" stroke-width="1"/>
<line x1="498.3" y1="250.4" x2="498.3" y2="254.8" stroke="#4a4a4a" stroke-width="1"/>
<line x1="495.4" y1="250.4" x2="501.2" y2="250.4" stroke="#4a4a4a" stroke-width="1"/>
<rect x="492.9" y="254.8" width="10.8" height="33.2" fill="url(#dD2)" stroke="#1e1e1e" stroke-width="1"/>
<circle cx="498.3" cy="247.1" r="1.1" fill="#2a2a2a"/>
<line x1="498.3" y1="288" x2="498.3" y2="290.8" stroke="#0a0a0a" stroke-width="1"/>
<line x1="311.5" y1="213.5" x2="511.2" y2="213.5" stroke="#333" stroke-width="0.9" stroke-dasharray="1.5,1.0"/>
<line x1="311.5" y1="267.5" x2="510.7" y2="267.5" stroke="#333" stroke-width="0.9" stroke-dasharray="1.5,1.0"/>
<text transform="translate(517.6,216.1) scale(1.0,1.1)" x="0" y="0" font-size="8.6" font-weight="normal" text-anchor="start" fill="#1a1a1a" stroke="#222" stroke-width="0.08">wt/Ntcp</text>
<text transform="translate(517.9,271.6) scale(1.0,1.1)" x="0" y="0" font-size="8.5" font-weight="normal" text-anchor="start" fill="#1a1a1a" stroke="#222" stroke-width="0.08">Ntcp</text>
<text transform="translate(323.4,297) scale(1.0,1.1)" x="0" y="0" font-size="5.6" font-weight="normal" text-anchor="middle" fill="#1a1a1a" stroke="#222" stroke-width="0.08">DMSO</text>
<text transform="translate(340.89,297) scale(1.0,1.12)" x="0" y="0" font-size="5.4" font-weight="normal" text-anchor="middle" fill="#1a1a1a" stroke="#222" stroke-width="0.08">0.5µM</text>
<path transform="translate(351.57,297) scale(0.00264,-0.00295)" d="M583 0L583 1147C540 1106 483 1064 413 1023C343 982 280 951 224 930L224 1104C325 1151 413 1209 488 1276C563 1343 616 1376 647 1409L763 1409L763 0Z" fill="#1a1a1a"/>
<text transform="translate(354.58,297) scale(1.0,1.12)" x="0" y="0" font-size="5.4" font-weight="normal" text-anchor="start" fill="#1a1a1a" stroke="#222" stroke-width="0.08">0µM</text>
<text transform="translate(375.87,297) scale(1.0,1.12)" x="0" y="0" font-size="5.4" font-weight="normal" text-anchor="middle" fill="#1a1a1a" stroke="#222" stroke-width="0.08">0.5µM</text>
<path transform="translate(386.55,297) scale(0.00264,-0.00295)" d="M583 0L583 1147C540 1106 483 1064 413 1023C343 982 280 951 224 930L224 1104C325 1151 413 1209 488 1276C563 1343 616 1376 647 1409L763 1409L763 0Z" fill="#1a1a1a"/>
<text transform="translate(389.56,297) scale(1.0,1.12)" x="0" y="0" font-size="5.4" font-weight="normal" text-anchor="start" fill="#1a1a1a" stroke="#222" stroke-width="0.08">0µM</text>
<text transform="translate(410.85,297) scale(1.0,1.12)" x="0" y="0" font-size="5.4" font-weight="normal" text-anchor="middle" fill="#1a1a1a" stroke="#222" stroke-width="0.08">0.5µM</text>
<path transform="translate(421.53,297) scale(0.00264,-0.00295)" d="M583 0L583 1147C540 1106 483 1064 413 1023C343 982 280 951 224 930L224 1104C325 1151 413 1209 488 1276C563 1343 616 1376 647 1409L763 1409L763 0Z" fill="#1a1a1a"/>
<text transform="translate(424.54,297) scale(1.0,1.12)" x="0" y="0" font-size="5.4" font-weight="normal" text-anchor="start" fill="#1a1a1a" stroke="#222" stroke-width="0.08">0µM</text>
<text transform="translate(445.83,297) scale(1.0,1.12)" x="0" y="0" font-size="5.4" font-weight="normal" text-anchor="middle" fill="#1a1a1a" stroke="#222" stroke-width="0.08">0.5µM</text>
<path transform="translate(456.51,297) scale(0.00264,-0.00295)" d="M583 0L583 1147C540 1106 483 1064 413 1023C343 982 280 951 224 930L224 1104C325 1151 413 1209 488 1276C563 1343 616 1376 647 1409L763 1409L763 0Z" fill="#1a1a1a"/>
<text transform="translate(459.52,297) scale(1.0,1.12)" x="0" y="0" font-size="5.4" font-weight="normal" text-anchor="start" fill="#1a1a1a" stroke="#222" stroke-width="0.08">0µM</text>
<text transform="translate(480.81,297) scale(1.0,1.12)" x="0" y="0" font-size="5.4" font-weight="normal" text-anchor="middle" fill="#1a1a1a" stroke="#222" stroke-width="0.08">0.5µM</text>
<text transform="translate(498.3,297) scale(1.0,1.12)" x="0" y="0" font-size="5.4" font-weight="normal" text-anchor="middle" fill="#1a1a1a" stroke="#222" stroke-width="0.08">0.5µM</text>
<line x1="340.29" y1="301" x2="357.48" y2="301" stroke="#333" stroke-width="0.8"/>
<text transform="translate(348.83,307.6) scale(1.0,1.15)" x="0" y="0" font-size="5.4" font-weight="normal" text-anchor="middle" fill="#1a1a1a" stroke="#222" stroke-width="0.08">VX-770</text>
<line x1="375.27" y1="301" x2="392.46" y2="301" stroke="#333" stroke-width="0.8"/>
<text transform="translate(383.81,307.6) scale(1.0,1.15)" x="0" y="0" font-size="5.4" font-weight="normal" text-anchor="middle" fill="#1a1a1a" stroke="#222" stroke-width="0.08">SBC040</text>
<line x1="410.25" y1="301" x2="427.44" y2="301" stroke="#333" stroke-width="0.8"/>
<text transform="translate(408.74,307.6) scale(1.0,1.15)" x="0" y="0" font-size="5.4" font-weight="normal" text-anchor="start" fill="#1a1a1a" stroke="#222" stroke-width="0.08">SBC2</text>
<path transform="translate(422.84,307.6) scale(0.00264,-0.00303)" d="M583 0L583 1147C540 1106 483 1064 413 1023C343 982 280 951 224 930L224 1104C325 1151 413 1209 488 1276C563 1343 616 1376 647 1409L763 1409L763 0Z" fill="#1a1a1a"/>
<text transform="translate(425.85,307.6) scale(1.0,1.15)" x="0" y="0" font-size="5.4" font-weight="normal" text-anchor="start" fill="#1a1a1a" stroke="#222" stroke-width="0.08">9</text>
<line x1="445.23" y1="301" x2="462.42" y2="301" stroke="#333" stroke-width="0.8"/>
<text transform="translate(440.27,307.6) scale(1.0,1.15)" x="0" y="0" font-size="5.4" font-weight="normal" text-anchor="start" fill="#1a1a1a" stroke="#222" stroke-width="0.08">GLPG</text>
<path transform="translate(455.27,307.6) scale(0.00264,-0.00303)" d="M583 0L583 1147C540 1106 483 1064 413 1023C343 982 280 951 224 930L224 1104C325 1151 413 1209 488 1276C563 1343 616 1376 647 1409L763 1409L763 0Z" fill="#1a1a1a"/>
<text transform="translate(458.27,307.6) scale(1.0,1.15)" x="0" y="0" font-size="5.4" font-weight="normal" text-anchor="start" fill="#1a1a1a" stroke="#222" stroke-width="0.08">837</text>
<text transform="translate(481.01,303) scale(1.0,1.25)" x="0" y="0" font-size="4.5" font-weight="normal" text-anchor="middle" fill="#1a1a1a" stroke="#222" stroke-width="0.08">SBC040</text>
<text transform="translate(490.72,303) scale(1.0,1.25)" x="0" y="0" font-size="4.5" font-weight="normal" text-anchor="start" fill="#1a1a1a" stroke="#222" stroke-width="0.08">SBC2</text>
<path transform="translate(502.47,303) scale(0.00220,-0.00275)" d="M583 0L583 1147C540 1106 483 1064 413 1023C343 982 280 951 224 930L224 1104C325 1151 413 1209 488 1276C563 1343 616 1376 647 1409L763 1409L763 0Z" fill="#1a1a1a"/>
<text transform="translate(504.98,303) scale(1.0,1.25)" x="0" y="0" font-size="4.5" font-weight="normal" text-anchor="start" fill="#1a1a1a" stroke="#222" stroke-width="0.08">9</text>
<line x1="476.81" y1="306.4" x2="502.8" y2="306.4" stroke="#333" stroke-width="0.8"/>
<text transform="translate(471.75,313.2) scale(1.0,1.2)" x="0" y="0" font-size="5.3" font-weight="normal" text-anchor="start" fill="#1a1a1a" stroke="#222" stroke-width="0.08">+</text>
<path transform="translate(474.85,313.2) scale(0.00259,-0.00311)" d="M583 0L583 1147C540 1106 483 1064 413 1023C343 982 280 951 224 930L224 1104C325 1151 413 1209 488 1276C563 1343 616 1376 647 1409L763 1409L763 0Z" fill="#1a1a1a"/>
<text transform="translate(477.79,313.2) scale(1.0,1.2)" x="0" y="0" font-size="5.3" font-weight="normal" text-anchor="start" fill="#1a1a1a" stroke="#222" stroke-width="0.08">0µM VX-770</text>
</svg></body></html>
